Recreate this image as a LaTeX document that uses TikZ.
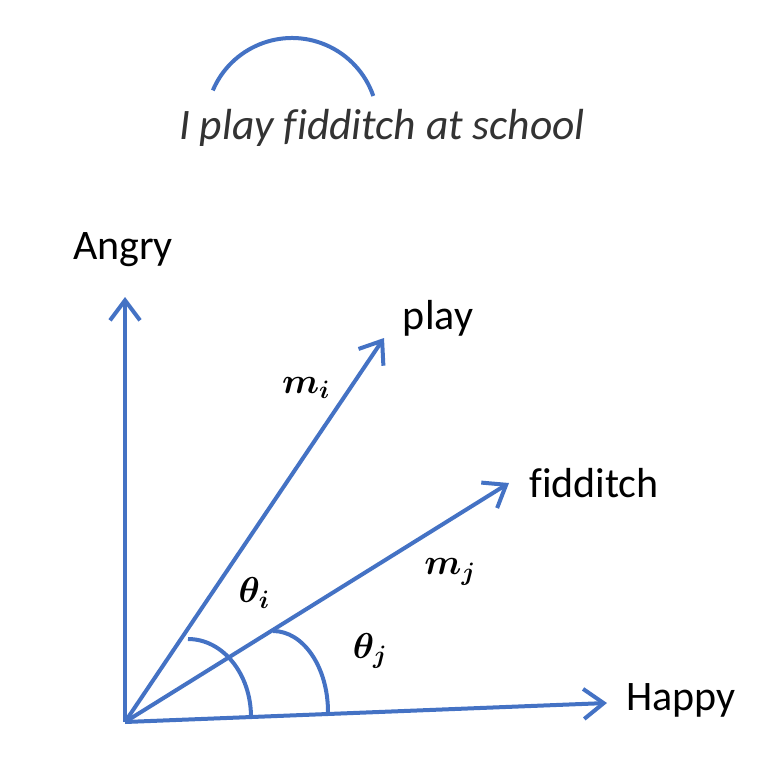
\RequirePackage{fix-cm}
\documentclass[tikz,border=0pt]{standalone}
\usepackage{fontspec}
\setmainfont{Carlito}[Ligatures={NoCommon}]
\usetikzlibrary{arrows.meta}
\definecolor{vblue}{HTML}{4472C4}
\definecolor{sgray}{HTML}{333333}
\tikzset{
  vec/.style={draw=vblue, line width=4pt, -{Straight Barb[length=20pt,width=30pt,line width=4pt]}},
  angarc/.style={draw=vblue, line width=4pt},
  lbl/.style={inner sep=0pt, font=\fontsize{42}{50}\selectfont, text=black},
  mlbl/.style={inner sep=0pt, font=\fontsize{36}{42}\selectfont\boldmath, text=black},
}
\begin{document}
\begin{tikzpicture}[x=1pt,y=-1pt]
\useasboundingbox (0,0) rectangle (782,770);
% sentence and arc
\node[inner sep=0pt, font=\fontsize{43.5}{50}\selectfont\itshape, text=sgray] (sent) at (382,128) {I play fidditch at school};
\draw[angarc] (292,124) ++(-157:86) arc[start angle=-157, end angle=-19, radius=86];
% axes and vectors
\coordinate (O) at (125,722);
\coordinate (A) at (125,297);
\coordinate (P) at (384,338);
\coordinate (F) at (509,483);
\coordinate (H) at (607,703);
\draw[vec] (O) -- (A);
\draw[vec] (O) -- (P);
\draw[vec] (O) -- (F);
\draw[vec] (O) -- (H);
% labels
\node[lbl] (angry) at (123,250) {Angry};
\node[lbl] (play) at (438,318) {play};
\node[lbl] (fid) at (594,483) {fidditch};
\node[lbl] (happy) at (681,700) {Happy};
\node[mlbl] (mi) at (306,388) {$m_i$};
\node[mlbl] (mj) at (450,572) {$m_j$};
\node[mlbl] (ti) at (254,593) {$\theta_i$};
\node[mlbl] (tj) at (370,651) {$\theta_j$};
% angle arcs
\draw[angarc] (188,639) arc[start angle=90, end angle=0, x radius=63, y radius=-78];
\draw[angarc] (273,631) arc[start angle=90, end angle=0, x radius=55, y radius=-81];
\end{tikzpicture}
\end{document}
